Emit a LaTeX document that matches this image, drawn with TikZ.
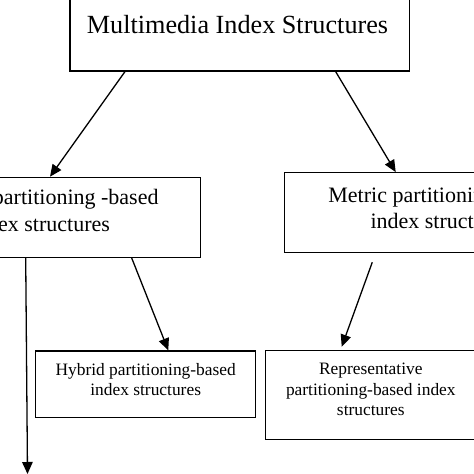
\documentclass[tikz,border=0pt]{standalone}
\usepackage{fontspec}
\setmainfont{Liberation Serif}
\usetikzlibrary{arrows.meta}
\begin{document}
\begin{tikzpicture}[x=1bp,y=-1bp,
  boxnode/.style={draw=black, line width=1.2bp, inner sep=0pt, rectangle},
  txt/.style={inner sep=0pt, align=center, text=black},
  topfont/.style={font=\fontsize{26.2bp}{31bp}\selectfont},
  midfont/.style={font=\fontsize{22bp}{26.4bp}\selectfont},
  lowfont/.style={font=\fontsize{17.4bp}{20.4bp}\selectfont},
  arr/.style={draw=black, line width=1.3bp, -{Triangle[length=12bp,width=10.5bp]}}]
\useasboundingbox (0,0) rectangle (474,474);
\clip (0,0) rectangle (474,474);
\fill[white] (0,0) rectangle (474,474);
% boxes
\node[boxnode, minimum width=339.3bp, minimum height=91bp] (top) at (239.65,25.5) {};
\node[boxnode, minimum width=320.3bp, minimum height=80bp] (lmid) at (40.15,217.3) {};
\node[boxnode, minimum width=312.7bp, minimum height=79.6bp] (rmid) at (440.65,212.5) {};
\node[boxnode, minimum width=220bp, minimum height=66.7bp] (hyb) at (145.7,384.35) {};
\node[boxnode, minimum width=210.3bp, minimum height=89bp] (rep) at (370.85,395.2) {};
% texts
\node[txt, topfont, anchor=base] (toptxt) at (237.5,33.3) {Multimedia Index Structures};
\node[txt, midfont, anchor=north] (lmidtxt) at (40,189.3) {Feature partitioning -based\\index structures};
\node[txt, midfont, anchor=north] (rmidtxt) at (440.5,186.7) {Metric partitioning-based\\index structures};
\node[txt, lowfont, anchor=north] (hybtxt) at (145.7,363.1) {Hybrid partitioning-based\\index structures};
\node[txt, lowfont, anchor=north] (reptxt) at (370.8,363.1) {Representative\\partitioning-based index\\structures};
% connectors
\coordinate (downend) at (27.5,474);
\draw[arr] ([xshift=-114.65bp]top.south) -- ([xshift=9.85bp]lmid.north);
\draw[arr] ([xshift=96bp]top.south) -- ([xshift=-44.95bp]rmid.north);
\draw[arr] ([xshift=91.5bp]lmid.south) -- ([xshift=22.6bp]hyb.north);
\draw[arr, shorten <=10bp, shorten >=3.6bp] ([xshift=-65bp]rmid.south) -- ([xshift=-30.35bp]rep.north);
\draw[arr] ([xshift=-14.45bp]lmid.south) -- (downend);
\end{tikzpicture}
\end{document}
